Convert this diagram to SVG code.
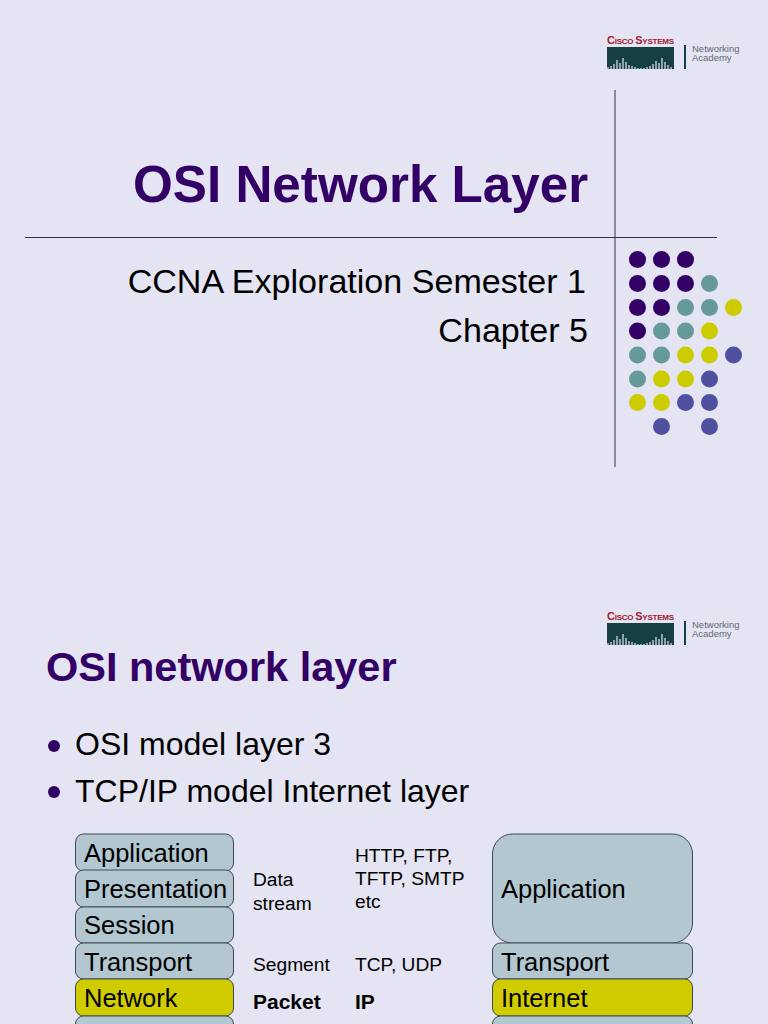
<svg xmlns="http://www.w3.org/2000/svg" width="768" height="1024" viewBox="0 0 768 1024">
<style>
text{font-family:"Liberation Sans",Arial,sans-serif;fill:#000}
.h{fill:#330066;font-weight:bold}
.box{fill:#b2c7d0;stroke:#3f4a50;stroke-width:1}
.sel{fill:#d0cc00;stroke:#3f4a50;stroke-width:1}
.l{font-size:25.500px}
.s{font-size:19.200px}
.b{font-size:21px}
.rule{stroke:#333340;stroke-width:1;fill:none}
.p{fill:#330066}.t{fill:#669999}.y{fill:#cccc00}.v{fill:#5050a0}
.red{fill:#a02030;font-weight:bold;font-size:8px}
.cap{font-size:11px}
.na{fill:#5f6b70;font-size:9.500px}
</style>
<defs>
<g id="logo">
<text class="red" x="607" y="44" textLength="67" lengthAdjust="spacing"><tspan class="cap">C</tspan>ISCO <tspan class="cap">S</tspan>YSTEMS</text>
<rect x="607" y="47" width="67" height="22" fill="#163f3f"/>
<path d="M608 69V67M611 69V66M614 69V64M617 69V60M620 69V63M623 69V58M626 69V62M629 69V65M632 69V66M635 69V67M638 69V68M641 69V68M644 69V68M647 69V67M650 69V66M653 69V64M656 69V61M659 69V63M662 69V58M665 69V62M668 69V65M671 69V67" stroke="#e4e4f2" stroke-width="1.200" fill="none"/>
<rect x="684" y="45" width="2" height="24" fill="#163f3f"/>
<text class="na" x="692" y="52">Networking</text>
<text class="na" x="692" y="61">Academy</text>
</g>
</defs>
<rect width="768" height="1024" fill="#e4e4f2"/>
<use href="#logo"/>
<use href="#logo" y="576"/>
<text class="h" x="133" y="202" font-size="51.200">OSI Network Layer</text>
<text x="586" y="293" font-size="34.100" text-anchor="end">CCNA Exploration Semester 1</text>
<text x="588" y="342" font-size="34.100" text-anchor="end">Chapter 5</text>
<g id="connectors">
<line class="rule" x1="25" y1="237.500" x2="717" y2="237.500"/>
<line class="rule" x1="615" y1="90" x2="615" y2="467"/>
</g>
<g id="dots">
<circle class="p" cx="637.500" cy="259.500" r="8.500"/><circle class="p" cx="661.500" cy="259.500" r="8.500"/><circle class="p" cx="685.500" cy="259.500" r="8.500"/>
<circle class="p" cx="637.500" cy="283.500" r="8.500"/><circle class="p" cx="661.500" cy="283.500" r="8.500"/><circle class="p" cx="685.500" cy="283.500" r="8.500"/><circle class="t" cx="709.500" cy="283.500" r="8.500"/>
<circle class="p" cx="637.500" cy="307.500" r="8.500"/><circle class="p" cx="661.500" cy="307.500" r="8.500"/><circle class="t" cx="685.500" cy="307.500" r="8.500"/><circle class="t" cx="709.500" cy="307.500" r="8.500"/><circle class="y" cx="733.500" cy="307.500" r="8.500"/>
<circle class="p" cx="637.500" cy="331" r="8.500"/><circle class="t" cx="661.500" cy="331" r="8.500"/><circle class="t" cx="685.500" cy="331" r="8.500"/><circle class="y" cx="709.500" cy="331" r="8.500"/>
<circle class="t" cx="637.500" cy="355" r="8.500"/><circle class="t" cx="661.500" cy="355" r="8.500"/><circle class="y" cx="685.500" cy="355" r="8.500"/><circle class="y" cx="709.500" cy="355" r="8.500"/><circle class="v" cx="733.500" cy="355" r="8.500"/>
<circle class="t" cx="637.500" cy="379" r="8.500"/><circle class="y" cx="661.500" cy="379" r="8.500"/><circle class="y" cx="685.500" cy="379" r="8.500"/><circle class="v" cx="709.500" cy="379" r="8.500"/>
<circle class="y" cx="637.500" cy="402.500" r="8.500"/><circle class="y" cx="661.500" cy="402.500" r="8.500"/><circle class="v" cx="685.500" cy="402.500" r="8.500"/><circle class="v" cx="709.500" cy="402.500" r="8.500"/>
<circle class="v" cx="661.500" cy="426.500" r="8.500"/><circle class="v" cx="709.500" cy="426.500" r="8.500"/>
</g>
<text class="h" x="46" y="681" font-size="41.500">OSI network layer</text>
<circle class="p" cx="54" cy="746" r="6"/>
<text x="75" y="755" font-size="32">OSI model layer 3</text>
<circle class="p" cx="54" cy="792" r="6"/>
<text x="75" y="802" font-size="32">TCP/IP model Internet layer</text>
<g id="osi-application"><rect class="box" x="75.500" y="834" width="158" height="37" rx="8"/><text class="l" x="84" y="862">Application</text></g>
<g id="osi-presentation"><rect class="box" x="75.500" y="870" width="158" height="37" rx="8"/><text class="l" x="84" y="898">Presentation</text></g>
<g id="osi-session"><rect class="box" x="75.500" y="907" width="158" height="36" rx="8"/><text class="l" x="84" y="934">Session</text></g>
<g id="osi-transport"><rect class="box" x="75.500" y="943" width="158" height="36" rx="8"/><text class="l" x="84" y="971">Transport</text></g>
<g id="osi-network"><rect class="sel" x="75.500" y="979" width="158" height="37" rx="8"/><text class="l" x="84" y="1007">Network</text></g>
<g id="osi-next"><rect class="box" x="75.500" y="1016" width="158" height="37" rx="8"/></g>
<g id="col-pdu">
<text class="s" x="253" y="886">Data</text><text class="s" x="253" y="910">stream</text>
<text class="s" x="253" y="971">Segment</text>
<text class="b" x="253" y="1009" font-weight="bold">Packet</text>
</g>
<g id="col-proto">
<text class="s" x="355" y="862">HTTP, FTP,</text><text class="s" x="355" y="885">TFTP, SMTP</text><text class="s" x="355" y="908">etc</text>
<text class="s" x="355" y="971">TCP, UDP</text>
<text class="b" x="355" y="1009" font-weight="bold">IP</text>
</g>
<g id="tcp-application"><rect class="box" x="492.500" y="834" width="200" height="109" rx="20"/><text class="l" x="501" y="898">Application</text></g>
<g id="tcp-transport"><rect class="box" x="492.500" y="943" width="200" height="36" rx="8"/><text class="l" x="501" y="971">Transport</text></g>
<g id="tcp-internet"><rect class="sel" x="492.500" y="979" width="200" height="37" rx="8"/><text class="l" x="501" y="1007">Internet</text></g>
<g id="tcp-next"><rect class="box" x="492.500" y="1016" width="200" height="37" rx="8"/></g>
</svg>
